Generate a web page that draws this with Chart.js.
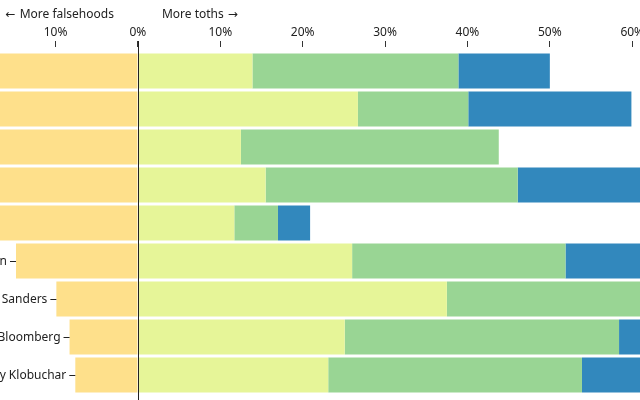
<!DOCTYPE html>
<html lang="en">
  <head>
    <meta charset="UTF-8" />
    <title>Diverging stacked bars</title>
    <script src="https://cdn.jsdelivr.net/npm/chart.js@4.4.1/dist/chart.umd.min.js"></script>
    <style>
      html,
      body {
        margin: 0;
        width: 640px;
        height: 400px;
        overflow: hidden;
        background: #fff;
      }
      #wrap {
        position: absolute;
        left: -275px;
        top: 0;
      }
    </style>
  </head>

  <body>
    <div id="wrap">
      <canvas id="myChart" width="1073" height="420"></canvas>
    </div>
    <script>
      /** data (percent of statements) */
      const speakers = [
        "Mike Pence",
        "Elizabeth Warren",
        "Kamala Harris",
        "Pete Buttigieg",
        "Donald Trump",
        "Joe Biden",
        "Bernie Sanders",
        "Michael Bloomberg",
        "Amy Klobuchar",
      ];
      const mostlyFalse = [-22, -20, -30, -25, -28, -14.8, -9.9, -8.3, -7.6];
      const halfTrue = [13.9, 26.7, 12.5, 15.5, 11.7, 26.0, 37.5, 25.1, 23.1];
      const mostlyTrue = [25.0, 13.4, 31.3, 30.6, 5.3, 25.9, 30, 33.3, 30.8];
      const allTrue = [11.1, 19.8, 0, 20, 3.9, 12, 12, 10, 12];

      const xMin = -50;
      const xMax = 80;
      const font = "'Noto Sans', sans-serif";
      const arrowFont = "12px 'DejaVu Sans', sans-serif";

      // names + little tick at the left end of every bar, the zero line and the two arrows
      const divergingLabels = {
        id: "divergingLabels",
        afterDatasetsDraw(chart) {
          const ctx = chart.ctx;
          const x = chart.scales.x;
          const y = chart.scales.y;
          const x0 = x.getPixelForValue(0);
          ctx.save();
          ctx.strokeStyle = "#222";
          ctx.lineWidth = 1;
          ctx.beginPath();
          ctx.moveTo(Math.round(x0) + 0.5, 41);
          ctx.lineTo(Math.round(x0) + 0.5, chart.height);
          ctx.stroke();

          ctx.fillStyle = "#222";
          ctx.font = "12px " + font;
          ctx.textBaseline = "middle";
          speakers.forEach((name, i) => {
            const left = x.getPixelForValue(mostlyFalse[i]);
            const cy = Math.round(y.getPixelForValue(i)) + 0.5;
            ctx.beginPath();
            ctx.moveTo(left - 6, cy);
            ctx.lineTo(left, cy);
            ctx.stroke();
            ctx.textAlign = "right";
            ctx.fillText(name, left - 9, cy);
          });

          // header: text in the label font, arrows from DejaVu
          const leftText = "More falsehoods";
          const rightText = "More toths";
          const leftEnd = x0 - 24;
          const leftW = ctx.measureText(leftText).width;
          ctx.textAlign = "right";
          ctx.fillText(leftText, leftEnd, 15);
          const rightStart = x0 + 24;
          const rightW = ctx.measureText(rightText).width;
          ctx.textAlign = "left";
          ctx.fillText(rightText, rightStart, 15);
          ctx.font = arrowFont;
          ctx.textAlign = "right";
          ctx.fillText("\u2190", leftEnd - leftW - 4, 15);
          ctx.textAlign = "left";
          ctx.fillText("\u2192", rightStart + rightW + 4, 15);
          ctx.restore();
        },
      };

      const myChart = new Chart("myChart", {
        type: "bar",
        data: {
          labels: speakers,
          datasets: [
            { label: "Mostly false", data: mostlyFalse, backgroundColor: "#fee08b" },
            { label: "Half true", data: halfTrue, backgroundColor: "#e6f598" },
            { label: "Mostly true", data: mostlyTrue, backgroundColor: "#99d594" },
            { label: "True", data: allTrue, backgroundColor: "#3288bd" },
          ],
        },
        options: {
          indexAxis: "y",
          responsive: false,
          animation: false,
          layout: { padding: { top: 0, left: 0, right: 0, bottom: 26 } },
          datasets: {
            bar: { barPercentage: 1, categoryPercentage: 0.92, borderWidth: 0 },
          },
          plugins: { legend: { display: false }, tooltip: { enabled: false } },
          scales: {
            x: {
              position: "top",
              stacked: true,
              min: xMin,
              max: xMax,
              border: { display: false },
              grid: {
                drawOnChartArea: false,
                tickLength: 11,
                tickColor: "#333",
                tickBorderDash: [6, 30],
              },
              ticks: {
                stepSize: 10,
                padding: 1,
                color: "#222",
                font: { family: font, size: 12 },
                callback: (v) => (v === xMin || v === xMax ? "" : Math.abs(v) + "%"),
              },
              afterFit: (scale) => {
                scale.height = 52;
              },
            },
            y: {
              stacked: true,
              display: false,
            },
          },
        },
        plugins: [divergingLabels],
      });
    </script>
  </body>
</html>
